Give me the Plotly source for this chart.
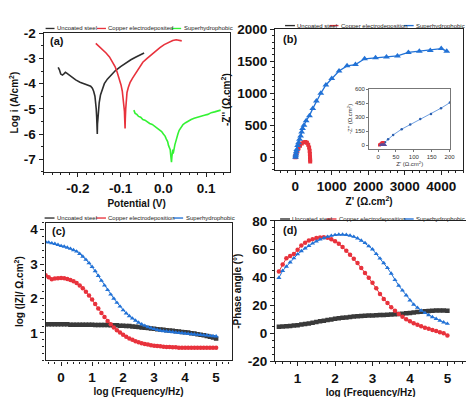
import plotly.graph_objects as go

# ---------------- (a) Tafel polarisation ----------------
tafel_uncoated_E = [-0.246, -0.243, -0.240, -0.236, -0.232, -0.229, -0.226, -0.223, -0.215, -0.205,
                    -0.195, -0.185, -0.177, -0.170, -0.166, -0.163, -0.160, -0.158, -0.157, -0.156,
                    -0.1555, -0.155, -0.1545, -0.154, -0.153, -0.152, -0.150, -0.147, -0.143, -0.138,
                    -0.131, -0.122, -0.112, -0.100, -0.088, -0.076, -0.064, -0.054, -0.045]
tafel_uncoated_logi = [-3.35, -3.45, -3.62, -3.66, -3.60, -3.55, -3.58, -3.62, -3.72, -3.85,
                       -3.94, -4.00, -4.05, -4.10, -4.18, -4.30, -4.50, -4.75, -5.00, -5.30,
                       -5.55, -5.75, -6.00, -5.60, -5.40, -5.10, -4.75, -4.45, -4.20, -4.00,
                       -3.82, -3.65, -3.48, -3.32, -3.18, -3.05, -2.94, -2.86, -2.78]
tafel_copper_E = [-0.158, -0.150, -0.142, -0.134, -0.126, -0.119, -0.113, -0.108, -0.103, -0.099,
                  -0.096, -0.094, -0.092, -0.091, -0.0905, -0.090, -0.0895, -0.089, -0.088, -0.087,
                  -0.085, -0.082, -0.078, -0.072, -0.065, -0.057, -0.048, -0.038, -0.028, -0.018,
                  -0.008, 0.002, 0.012, 0.022, 0.030, 0.037, 0.043]
tafel_copper_logi = [-2.40, -2.52, -2.64, -2.78, -2.94, -3.12, -3.32, -3.55, -3.80, -4.05,
                     -4.30, -4.55, -4.85, -5.10, -5.35, -5.55, -5.78, -5.40, -5.00, -4.60,
                     -4.35, -4.15, -3.96, -3.78, -3.60, -3.38, -3.15, -3.00, -2.85, -2.70,
                     -2.57, -2.45, -2.36, -2.29, -2.26, -2.27, -2.30]
tafel_sh_E = [-0.069, -0.066, -0.062, -0.058, -0.053, -0.048, -0.043, -0.038, -0.032, -0.026,
              -0.020, -0.014, -0.009, -0.004, 0.000, 0.004, 0.007, 0.010, 0.012, 0.014,
              0.016, 0.017, 0.018, 0.019, 0.020, 0.021, 0.022, 0.023, 0.024, 0.025,
              0.027, 0.029, 0.031, 0.034, 0.037, 0.041, 0.046, 0.052, 0.058, 0.065,
              0.072, 0.080, 0.088, 0.096, 0.104, 0.112, 0.120, 0.128, 0.134]
tafel_sh_logi = [-5.05, -5.18, -5.22, -5.30, -5.33, -5.42, -5.45, -5.52, -5.58, -5.62,
                 -5.70, -5.75, -5.85, -5.90, -6.00, -6.08, -6.20, -6.30, -6.45, -6.55,
                 -6.62, -6.80, -6.95, -7.12, -6.90, -6.70, -6.62, -6.78, -6.65, -6.55,
                 -6.42, -6.30, -6.15, -6.00, -5.85, -5.72, -5.62, -5.55, -5.48, -5.42,
                 -5.37, -5.32, -5.28, -5.25, -5.22, -5.15, -5.12, -5.08, -5.05]

# ---------------- (b) Nyquist (main) ----------------
nyq_uncoated_re = [7, 9, 11, 13, 15, 16.5, 17.5, 18]
nyq_uncoated_im = [0, 1.5, 2.5, 3, 3, 2.5, 1.5, 0.5]
nyq_copper_re = [5, 7, 10, 13, 17, 25, 40, 60, 90, 130, 180, 230, 280, 320, 355, 380, 395, 402, 405, 408, 410]
nyq_copper_im = [0, 5, 12, 20, 30, 45, 70, 100, 140, 180, 215, 235, 238, 225, 195, 150, 100, 50, 0, -40, -70]
nyq_sh_re = [8, 12, 19, 28, 42, 66, 90, 118, 148, 176, 201, 240, 300, 390, 480, 580, 700, 840,
             1000, 1200, 1420, 1650, 1900, 2200, 2500, 2800, 3100, 3400, 3700, 4000, 4150]
nyq_sh_im = [0, 20, 49, 85, 120, 184, 226, 282, 332, 395, 448, 500, 570, 650, 760, 880, 1000, 1130,
             1230, 1350, 1430, 1450, 1540, 1555, 1570, 1585, 1640, 1660, 1670, 1700, 1660]

# ---------------- (b) Nyquist (inset, high-frequency zoom) ----------------
inset_uncoated_re = [8, 11, 14, 17, 19]
inset_uncoated_im = [0, 2, 3, 2, 0]
inset_copper_re = [4, 6, 8, 10, 12, 14]
inset_copper_im = [0, 6, 12, 18, 24, 28]
inset_sh_re = [12, 19, 28, 42, 66, 90, 118, 148, 176, 201]
inset_sh_im = [5, 30, 62, 108, 170, 220, 278, 332, 395, 455]

# ---------------- (c)/(d) Bode ----------------
log_freq = [-0.5, -0.4, -0.3, -0.2, -0.1, 0.0, 0.1, 0.2, 0.3, 0.4,
            0.5, 0.6, 0.7, 0.8, 0.9, 1.0, 1.1, 1.2, 1.3, 1.4,
            1.5, 1.6, 1.7, 1.8, 1.9, 2.0, 2.1, 2.2, 2.3, 2.4,
            2.5, 2.6, 2.7, 2.8, 2.9, 3.0, 3.1, 3.2, 3.3, 3.4,
            3.5, 3.6, 3.7, 3.8, 3.9, 4.0, 4.1, 4.2, 4.3, 4.4,
            4.5, 4.6, 4.7, 4.8, 4.9, 5.0]
bode_mod_uncoated = [1.25, 1.25, 1.25, 1.25, 1.25, 1.25, 1.25, 1.25, 1.24, 1.24,
                     1.24, 1.24, 1.24, 1.24, 1.24, 1.24, 1.23, 1.23, 1.23, 1.23,
                     1.23, 1.22, 1.22, 1.22, 1.21, 1.21, 1.20, 1.20, 1.19, 1.18,
                     1.17, 1.16, 1.15, 1.14, 1.13, 1.12, 1.11, 1.10, 1.09, 1.08,
                     1.07, 1.06, 1.05, 1.04, 1.03, 1.02, 1.01, 0.99, 0.98, 0.96,
                     0.95, 0.93, 0.91, 0.89, 0.87, 0.84]
bode_mod_copper = [2.68, 2.62, 2.56, 2.58, 2.59, 2.60, 2.59, 2.57, 2.54, 2.50,
                   2.45, 2.38, 2.30, 2.20, 2.09, 1.97, 1.84, 1.71, 1.58, 1.46,
                   1.35, 1.25, 1.16, 1.08, 1.01, 0.95, 0.89, 0.84, 0.80, 0.76,
                   0.73, 0.70, 0.68, 0.66, 0.64, 0.63, 0.62, 0.61, 0.60, 0.59,
                   0.59, 0.58, 0.58, 0.57, 0.57, 0.57, 0.57, 0.57, 0.57, 0.57,
                   0.57, 0.57, 0.57, 0.57, 0.57, 0.57]
bode_mod_sh = [3.65, 3.63, 3.61, 3.59, 3.56, 3.53, 3.51, 3.48, 3.45, 3.41,
               3.37, 3.30, 3.22, 3.13, 3.03, 2.92, 2.80, 2.66, 2.52, 2.38,
               2.25, 2.12, 2.00, 1.88, 1.77, 1.66, 1.57, 1.49, 1.42, 1.36,
               1.30, 1.25, 1.21, 1.17, 1.14, 1.115, 1.09, 1.07, 1.055, 1.045,
               1.035, 1.025, 1.015, 1.005, 0.995, 0.985, 0.975, 0.965, 0.96, 0.95,
               0.945, 0.935, 0.93, 0.92, 0.91, 0.90]
log_freq_phase = log_freq[10:]
phase_uncoated = [4.6, 4.8, 5.0, 5.2, 5.5, 5.8, 6.2, 6.6, 7.0, 7.5,
                  8.0, 8.5, 9.0, 9.5, 9.9, 10.3, 10.7, 11.0, 11.3, 11.6,
                  11.9, 12.1, 12.3, 12.5, 12.6, 12.7, 12.9, 13.0, 13.1, 13.2,
                  13.3, 13.5, 13.7, 13.9, 14.2, 14.5, 14.8, 15.1, 15.4, 15.7,
                  15.9, 16.1, 16.3, 16.3, 16.2, 16.0]
phase_copper = [44, 49, 53.5, 55, 56.5, 59.5, 62.5, 64.5, 66, 67,
                67.8, 68.2, 68.3, 68.0, 67.0, 65.5, 63.8, 61.5, 58.8, 56.0,
                53.0, 50.0, 46.5, 43.0, 39.5, 36.0, 32.0, 28.0, 24.5, 21.5,
                18.5, 16.0, 13.8, 11.8, 10.0, 8.5, 7.2, 6.0, 5.0, 4.0,
                3.2, 2.4, 1.6, 0.8, 0.0, -1.5]
phase_sh = [39.5, 44.5, 47.5, 50.5, 53.5, 56.3, 58.5, 60.5, 62.3, 64.0,
            65.5, 66.8, 67.8, 68.8, 69.5, 70.0, 70.3, 70.3, 70.1, 69.6,
            68.8, 67.6, 66.0, 64.3, 62.0, 59.8, 56.5, 53.3, 50.0, 46.5,
            42.5, 38.0, 34.0, 30.5, 27.0, 23.5, 20.5, 18.2, 16.2, 14.5,
            13.0, 11.6, 10.3, 9.0, 7.8, 6.8]

# ---------------- tick labels & legend text ----------------
tafel_x_ticks = [-0.2, -0.1, 0.0, 0.1]
tafel_x_labels = ["-0.2", "-0.1", "0.0", "0.1"]
tafel_y_ticks = [-2, -3, -4, -5, -6, -7]
tafel_y_labels = ["-2", "-3", "-4", "-5", "-6", "-7"]
phase_y_ticks = [-20, 0, 20, 40, 60, 80]
phase_y_labels = ["-20", "0", "20", "40", "60", "80"]
legend_a = ["Uncoated steel", "Copper electrodeposited", "Superhydrophobic"]
legend_bcd = ["Uncoated steel", "Copper electrodeposition", "Superhydrophobic"]

W, H = 474, 397
BLACK, RED, BLUE, GREEN = "#2e2e2e", "#e8323c", "#2272d6", "#33f233"
DARK = "#3a3a3a"


def px(x):
    return x / W


def py(y):
    return 1 - y / H


fig = go.Figure()

# (a)
for xs, ys, c in [(tafel_uncoated_E, tafel_uncoated_logi, BLACK),
                  (tafel_copper_E, tafel_copper_logi, RED),
                  (tafel_sh_E, tafel_sh_logi, GREEN)]:
    fig.add_trace(go.Scatter(x=xs, y=ys, mode="lines", line=dict(color=c, width=1.6),
                             xaxis="x", yaxis="y", showlegend=False))

# (b) main
fig.add_trace(go.Scatter(x=nyq_uncoated_re, y=nyq_uncoated_im, mode="lines+markers",
                         line=dict(color=DARK, width=1), marker=dict(symbol="square", size=3, color=DARK),
                         xaxis="x2", yaxis="y2", showlegend=False))
fig.add_trace(go.Scatter(x=nyq_copper_re, y=nyq_copper_im, mode="lines+markers",
                         line=dict(color=RED, width=1.2), marker=dict(symbol="square", size=4, color=RED),
                         xaxis="x2", yaxis="y2", showlegend=False))
fig.add_trace(go.Scatter(x=nyq_sh_re, y=nyq_sh_im, mode="lines+markers",
                         line=dict(color=BLUE, width=1.3), marker=dict(symbol="triangle-up", size=6, color=BLUE),
                         xaxis="x2", yaxis="y2", showlegend=False))
# (b) inset
fig.add_trace(go.Scatter(x=inset_sh_re, y=inset_sh_im, mode="lines+markers",
                         line=dict(color="#4a86d8", width=0.8), marker=dict(symbol="circle", size=2.5, color="#2a5fb0"),
                         xaxis="x5", yaxis="y5", showlegend=False))
fig.add_trace(go.Scatter(x=inset_copper_re, y=inset_copper_im, mode="lines+markers",
                         line=dict(color=RED, width=1.5), marker=dict(symbol="square", size=3, color=RED),
                         xaxis="x5", yaxis="y5", showlegend=False))
fig.add_trace(go.Scatter(x=inset_uncoated_re, y=inset_uncoated_im, mode="lines+markers",
                         line=dict(color="#6a4a9a", width=1), marker=dict(symbol="triangle-up", size=4, color="#5a4a9a"),
                         xaxis="x5", yaxis="y5", showlegend=False))

# (c)
for ys, c, sym in [(bode_mod_uncoated, DARK, "square"),
                   (bode_mod_copper, RED, "circle"),
                   (bode_mod_sh, BLUE, "triangle-up")]:
    fig.add_trace(go.Scatter(x=log_freq, y=ys, mode="lines+markers", line=dict(color=c, width=1),
                             marker=dict(symbol=sym, size=4.5, color=c),
                             xaxis="x3", yaxis="y3", showlegend=False))
# (d)
for ys, c, sym in [(phase_uncoated, DARK, "square"),
                   (phase_copper, RED, "circle"),
                   (phase_sh, BLUE, "triangle-up")]:
    fig.add_trace(go.Scatter(x=log_freq_phase, y=ys, mode="lines+markers", line=dict(color=c, width=1),
                             marker=dict(symbol=sym, size=4.5, color=c),
                             xaxis="x4", yaxis="y4", showlegend=False))

FONT = "Arial"


def ax_style(**kw):
    d = dict(showline=True, linecolor="#222", linewidth=1.2, mirror=True, ticks="outside", ticklen=4,
             tickwidth=1.2, tickcolor="#222", showgrid=False, zeroline=False,
             tickfont=dict(family=FONT, size=13.5, color="#111", weight="bold"),
             title=dict(font=dict(family=FONT, size=10, color="#111", weight="bold"), standoff=4),
             minor=dict(ticks="outside", ticklen=2, tickcolor="#222"))
    for k, v in kw.items():
        if k == "title_text":
            d["title"]["text"] = v
        else:
            d[k] = v
    return d


def inset_style(**kw):
    d = dict(showline=True, linecolor="#777", linewidth=1, mirror=True, ticks="outside", ticklen=2,
             tickwidth=0.8, tickcolor="#777", showgrid=False, zeroline=False,
             tickfont=dict(family=FONT, size=6, color="#333"),
             title=dict(font=dict(family=FONT, size=6, color="#333"), standoff=1))
    for k, v in kw.items():
        if k == "title_text":
            d["title"]["text"] = v
        else:
            d[k] = v
    return d


fig.update_layout(
    width=W, height=H, margin=dict(l=0, r=0, t=0, b=0),
    paper_bgcolor="white", plot_bgcolor="white", showlegend=False,
    xaxis=ax_style(domain=[px(36), px(224)], range=[-0.28, 0.155], anchor="y",
                   tickvals=tafel_x_ticks, ticktext=tafel_x_labels, title_text="Potential (V)"),
    yaxis=ax_style(domain=[py(163), py(19)], range=[-7.5, -2], anchor="x",
                   tickvals=tafel_y_ticks, ticktext=tafel_y_labels, title_text="Log i (A/cm<sup>2</sup>)"),
    xaxis2=ax_style(domain=[px(270), px(460)], range=[-550, 4600], anchor="y2", dtick=1000,
                    title_text="Z' (Ω.cm<sup>2</sup>)"),
    yaxis2=ax_style(domain=[py(161), py(15)], range=[-200, 2000], anchor="x2", dtick=500,
                    title_text="-Z'' (Ω.cm<sup>2</sup>)"),
    xaxis3=ax_style(domain=[px(38), px(226)], range=[-0.5, 5.5], anchor="y3", dtick=1,
                    title_text="log (Frequency/Hz)"),
    yaxis3=ax_style(domain=[py(359), py(216)], range=[0.2, 4.2], anchor="x3", dtick=1,
                    title_text="log (|Z|/ Ω.cm<sup>2</sup>)"),
    xaxis4=ax_style(domain=[px(270), px(463)], range=[0.4, 5.5], anchor="y4", dtick=1,
                    title_text="log (Frequency/Hz)"),
    yaxis4=ax_style(domain=[py(360), py(214)], range=[-20, 80], anchor="x4",
                    tickvals=phase_y_ticks, ticktext=phase_y_labels, title_text="-Phase angle (°)"),
    xaxis5=inset_style(domain=[px(365), px(447)], range=[-25, 202], anchor="y5", dtick=50,
                       title_text="Z' (Ω.cm<sup>2</sup>)"),
    yaxis5=inset_style(domain=[py(139), py(77)], range=[-40, 600], anchor="x5", dtick=150,
                       title_text="-Z'' (Ω.cm<sup>2</sup>)"),
)

# panel labels
for txt, x, y in [("(a)", 40, 27), ("(b)", 276, 25), ("(c)", 42, 224), ("(d)", 276, 223)]:
    fig.add_annotation(text=txt, x=px(x), y=py(y), xref="paper", yref="paper", showarrow=False,
                       xanchor="left", yanchor="middle",
                       font=dict(family=FONT, size=11, color="#111", weight="bold"))

# legends (small filled bars as line samples + text above each panel)
legend_layouts = [
    (legend_a, [BLACK, RED, GREEN], 14, [(38, 47), (90, 99), (165, 175)]),
    (legend_bcd, [BLACK, RED, BLUE], 11, [(280, 290), (325, 334), (400, 410)]),
    (legend_bcd, [BLACK, RED, BLUE], 211, [(37, 47), (89, 99), (167, 177)]),
    (legend_bcd, [BLACK, RED, BLUE], 212, [(275, 285), (322, 332), (400, 410)]),
]
for names, cols, ly, spans in legend_layouts:
    for name, col, (x0, x1) in zip(names, cols, spans):
        fig.add_shape(type="rect", xref="paper", yref="paper", x0=px(x0), x1=px(x1),
                      y0=py(ly + 0.7), y1=py(ly - 0.7), fillcolor=col, line=dict(width=0))
        fig.add_annotation(text=name, x=px(x1 + 0.5), y=py(ly), xref="paper", yref="paper", showarrow=False,
                           xanchor="left", yanchor="middle",
                           font=dict(family="Liberation Sans Narrow, Arial", size=6, color="#222"))

fig.write_html("out.html")
